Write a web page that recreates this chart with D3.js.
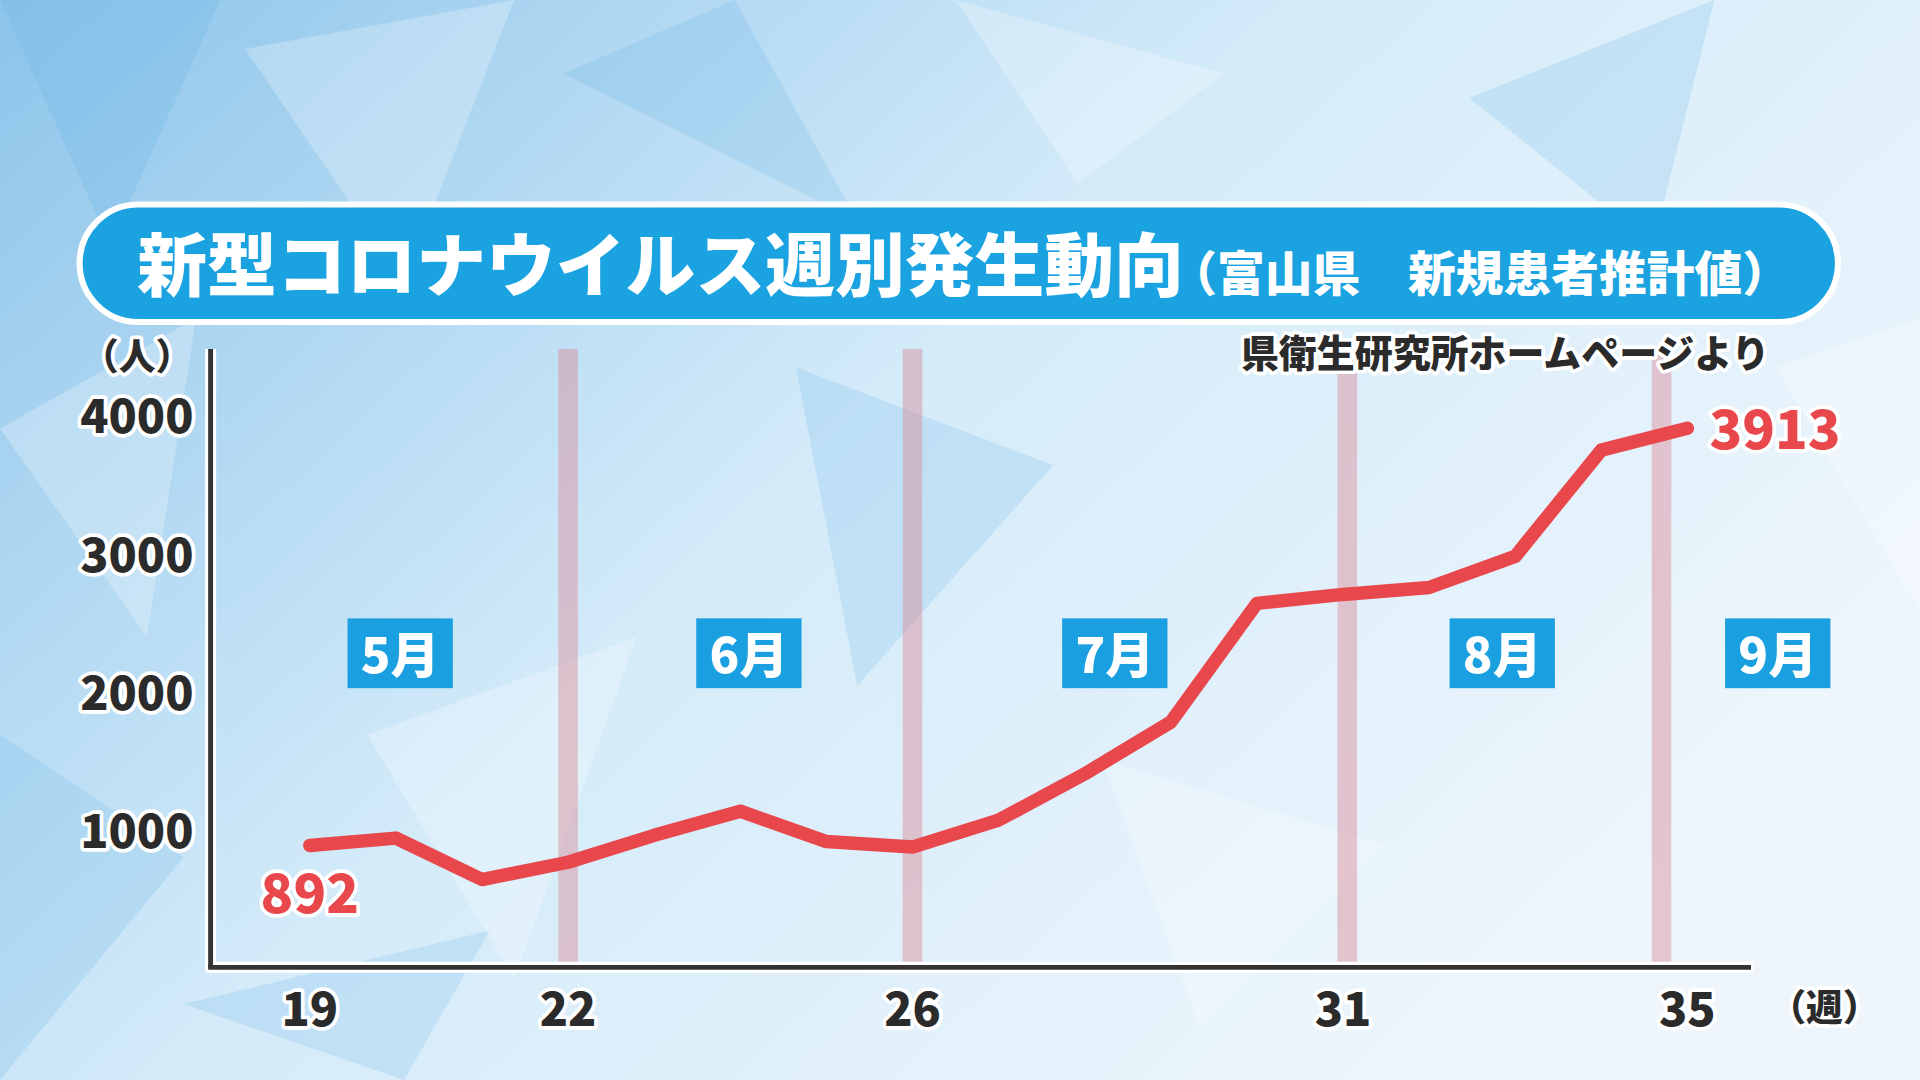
<!DOCTYPE html>
<html><head><meta charset="utf-8">
<script src="https://cdn.jsdelivr.net/npm/d3@7"></script>
<style>body{margin:0;overflow:hidden}svg{display:block}text{font-family:"Noto Sans CJK JP",sans-serif;font-weight:900}</style>
</head><body>
<svg id="chart"></svg>
<script>
const weeks = [19,20,21,22,23,24,25,26,27,28,29,30,31,32,33,34,35];
const cases = [892,945,645,770,965,1140,920,880,1075,1410,1785,2645,2710,2760,2985,3755,3913];
const yTicks = [1000,2000,3000,4000];
const xTicks = [19,22,26,31,35];
const monthBreaks = [22,26,31.05,34.7];
const months = [{m:"5月",w:20.05},{m:"6月",w:24.1},{m:"7月",w:28.35},{m:"8月",w:32.85},{m:"9月",w:36.05}];

const W = 1568, H = 882;
const svg = d3.select("#chart").attr("width",1920).attr("height",1080).attr("viewBox",`0 0 ${W} ${H}`);

// background
const defs = svg.append("defs");
const g = defs.append("linearGradient").attr("id","bg").attr("x1",0).attr("y1",0).attr("x2",1).attr("y2",0.6);
g.append("stop").attr("offset",0).attr("stop-color","#8cc4ea");
g.append("stop").attr("offset",0.5).attr("stop-color","#d4ebf9");
g.append("stop").attr("offset",1).attr("stop-color","#eef6fc");
svg.append("rect").attr("width",W).attr("height",H).attr("fill","url(#bg)");
const shards = [
  [[0,0],[180,0],[90,200]],[[200,40],[420,0],[330,230]],[[460,60],[600,0],[700,180]],
  [[0,350],[160,260],[120,520]],[[0,600],[150,700],[0,882]],[[300,600],[520,520],[420,800]],
  [[650,300],[860,380],[700,560]],[[900,620],[1130,690],[980,840]],[[1200,80],[1400,0],[1350,200]],
  [[1450,300],[1568,260],[1568,500]],[[150,820],[400,760],[330,882]],[[780,0],[1000,60],[880,150]]
];
svg.selectAll("polygon.s").data(shards).enter().append("polygon")
  .attr("points",d=>d.join(" ")).attr("fill",(d,i)=>i%2?"#ffffff":"#5aaee3").attr("opacity",(d,i)=>i%2?0.25:0.18);

const x = d3.scaleLinear().domain([19,35]).range([253,1378]);
const y = d3.scaleLinear().domain([0,4000]).range([791,340]);

// month separators
svg.selectAll("rect.sep").data(monthBreaks).enter().append("rect")
  .attr("x",d=>x(d)-8).attr("y",285).attr("width",16).attr("height",505)
  .attr("fill","#d98a97").attr("opacity",0.45);

// month labels
const mg = svg.selectAll("g.m").data(months).enter().append("g");
mg.append("rect").attr("x",d=>x(d.w)-43).attr("y",505).attr("width",86).attr("height",57).attr("fill","#1a9fe0");
mg.append("text").attr("x",d=>x(d.w)).attr("y",550).attr("text-anchor","middle").attr("fill","#fff")
  .attr("font-size",40).text(d=>d.m);

// axes
svg.append("line").attr("x1",172).attr("x2",172).attr("y1",285).attr("y2",792).attr("stroke","#fff").attr("stroke-width",9);
svg.append("line").attr("x1",168).attr("x2",1432).attr("y1",790).attr("y2",790).attr("stroke","#fff").attr("stroke-width",9);
svg.append("line").attr("x1",172).attr("x2",172).attr("y1",285).attr("y2",790).attr("stroke","#333").attr("stroke-width",4);
svg.append("line").attr("x1",170).attr("x2",1430).attr("y1",790).attr("y2",790).attr("stroke","#333").attr("stroke-width",4);

function label(sel){ return sel.attr("stroke","#fff").attr("stroke-width",6).attr("paint-order","stroke").attr("stroke-linejoin","round"); }
label(svg.selectAll("text.yt").data(yTicks).enter().append("text")
  .attr("x",158).attr("y",d=>y(d)+14).attr("text-anchor","end").attr("font-size",38).attr("fill","#2b2b2b").text(d=>d));
label(svg.selectAll("text.xt").data(xTicks).enter().append("text")
  .attr("x",d=>x(d)).attr("y",838).attr("text-anchor","middle").attr("font-size",38).attr("fill","#2b2b2b").text(d=>d));
label(svg.append("text").attr("x",112).attr("y",302).attr("text-anchor","middle").attr("font-size",30).attr("fill","#2b2b2b").text("（人）"));
label(svg.append("text").attr("x",1490).attr("y",834).attr("text-anchor","middle").attr("font-size",30).attr("fill","#2b2b2b").text("（週）"));
label(svg.append("text").attr("x",1445).attr("y",300).attr("text-anchor","end").attr("font-size",31).attr("font-weight",700).attr("fill","#2b2b2b").text("県衛生研究所ホームページより"));

// line
const line = d3.line().x((d,i)=>x(weeks[i])).y(d=>y(d));
svg.append("path").datum(cases).attr("d",line).attr("fill","none")
  .attr("stroke","#e8484c").attr("stroke-width",11).attr("stroke-linejoin","round").attr("stroke-linecap","round");
label(svg.append("text").attr("x",x(19)).attr("y",746).attr("text-anchor","middle").attr("font-size",44).attr("fill","#e8484c").text(cases[0]));
label(svg.append("text").attr("x",x(35)+18).attr("y",y(cases[16])+17).attr("font-size",44).attr("fill","#e8484c").text(cases[16]));

// title pill
svg.append("rect").attr("x",65).attr("y",167).attr("width",1436).attr("height",96).attr("rx",48)
  .attr("fill","#1aa3e0").attr("stroke","#fff").attr("stroke-width",5);
const t = svg.append("text").attr("x",112).attr("y",238).attr("fill","#fff");
t.append("tspan").attr("font-size",57).text("新型コロナウイルス週別発生動向");
t.append("tspan").attr("font-size",39).attr("dx",-12).text("（富山県　新規患者推計値）");
</script>
</body></html>
